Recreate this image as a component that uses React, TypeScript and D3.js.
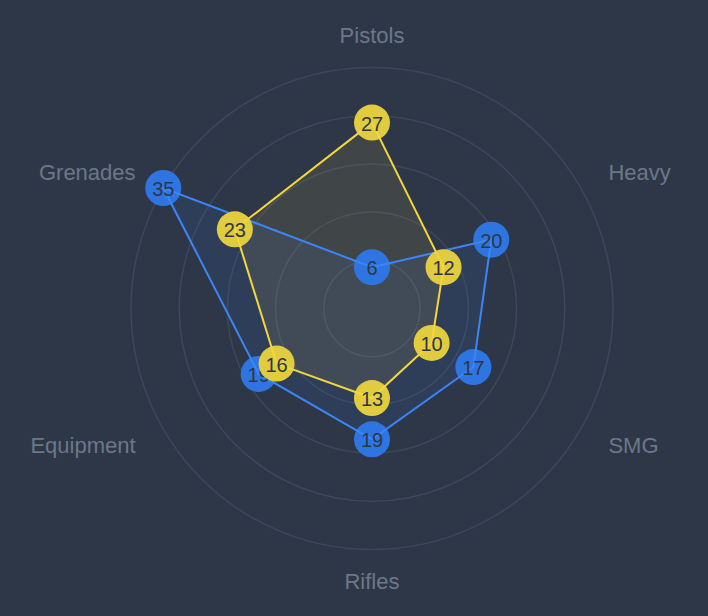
import React from 'react'
import * as d3 from 'd3'

// 軸與數據
const axes = ['Pistols', 'Heavy', 'SMG', 'Rifles', 'Equipment', 'Grenades']
const blueValues = [6, 20, 17, 19, 19, 35]
const yellowValues = [27, 12, 10, 13, 16, 23]
const ringValues = [7, 14, 21, 28, 35]

const series = [
  { key: 'blue', values: blueValues, dot: '#2f75e1', line: '#3b86f6', fill: '#3b82f6' },
  { key: 'yellow', values: yellowValues, dot: '#e1cc3f', line: '#f3d73b', fill: '#ecc94b' }
]

const width = 708
const height = 616
const cx = 372
const cy = 308.5
const maxRadius = 241
const labelOffset = 32
const dotRadius = 18
const font = 'Helvetica, Arial, "Liberation Sans", sans-serif'

export default function App() {
  const r = d3.scaleLinear().domain([0, 35]).range([0, maxRadius])
  const step = (2 * Math.PI) / axes.length
  const ang = (i: number) => i * step - Math.PI / 2

  const pt = (i: number, v: number): [number, number] => [
    cx + r(v) * Math.cos(ang(i)),
    cy + r(v) * Math.sin(ang(i))
  ]

  const line = d3.line<[number, number]>().curve(d3.curveLinearClosed)
  const points = series.map(s => s.values.map((v, i) => pt(i, v)))

  return (
    <svg width={width} height={height} style={{ position: 'absolute', left: 0, top: 0 }}>
      <rect width={width} height={height} fill="#2d3748" />
      {/* 網格圓 */}
      {ringValues.map(v => (
        <circle
          key={v}
          cx={cx}
          cy={cy}
          r={r(v)}
          fill="none"
          stroke="#4a5568"
          strokeOpacity={0.55}
          strokeWidth={1.5}
        />
      ))}
      {/* 軸標籤 */}
      {axes.map((a, i) => {
        const a0 = ang(i)
        const lx = cx + (maxRadius + labelOffset) * Math.cos(a0)
        const ly = cy + (maxRadius + labelOffset) * Math.sin(a0)
        const c = Math.cos(a0)
        const anchor = Math.abs(c) < 0.01 ? 'middle' : c > 0 ? 'start' : 'end'
        return (
          <text
            key={a}
            x={lx}
            y={ly}
            textAnchor={anchor}
            dominantBaseline="central"
            fontFamily={font}
            fontSize={22}
            fill="#6c7788"
          >
            {a}
          </text>
        )
      })}
      {/* 面積 */}
      {series.map((s, si) => (
        <path key={s.key} d={line(points[si]) || ''} fill={s.fill} fillOpacity={0.1} stroke="none" />
      ))}
      {/* 點、邊線、數值 */}
      {series.map((s, si) => {
        const pts = points[si]
        return (
          <g key={s.key}>
            {pts.map((p, i) => (
              <circle key={i} cx={p[0]} cy={p[1]} r={dotRadius} fill={s.dot} />
            ))}
            <path d={line(pts) || ''} fill="none" stroke={s.line} strokeWidth={2} />
            {pts.map((p, i) => (
              <text
                key={i}
                x={p[0]}
                y={p[1] + 1}
                textAnchor="middle"
                dominantBaseline="central"
                fontFamily={font}
                fontSize={20}
                fill="#2d3748"
              >
                {s.values[i]}
              </text>
            ))}
          </g>
        )
      })}
    </svg>
  )
}
